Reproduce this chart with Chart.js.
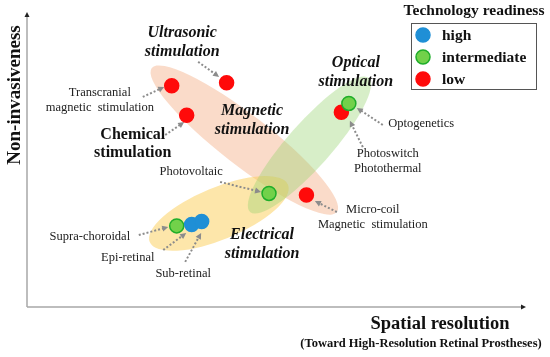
<!DOCTYPE html>
<html><head><meta charset="utf-8">
<script src="https://cdn.jsdelivr.net/npm/chart.js@4/dist/chart.umd.min.js"></script>
<style>html,body{margin:0;padding:0;background:#fff}#wrap{width:550px;height:357px}</style>
</head><body><div id="wrap"><canvas id="c" width="550" height="357"></canvas></div>
<script>
// ---- data (axis units 0..100, conceptual) ----
const readinessLevels = ["high", "intermediate", "low"];
const highPoints = [ {x:33, y:28, name:"Epi-retinal"}, {x:35, y:29, name:"Sub-retinal"} ];
const intermediatePoints = [ {x:30, y:27.5, name:"Supra-choroidal"}, {x:48.5, y:38.5, name:"Photovoltaic"}, {x:64.5, y:69, name:"Optogenetics"} ];
const lowPoints = [ {x:29, y:75, name:"Transcranial magnetic stimulation"}, {x:40, y:76, name:"Ultrasonic"}, {x:32, y:65, name:"Chemical"}, {x:63, y:66, name:"Photoswitch / Photothermal"}, {x:56, y:38, name:"Micro-coil magnetic"} ];
// stimulation-group regions: major-axis end points (data units)
const regionMagnetic = {from:[25.0,81.0], to:[62.1,32.2]};
const regionElectrical = {from:[24.6,22.0], to:[52.3,41.4]};
const regionOptical = {from:[68.5,77.6], to:[44.7,32.2]};
// group titles
const groupLabels = [
  {lines:["Ultrasonic","stimulation"], x:31.1, y:89.8},
  {lines:["Magnetic","stimulation"], x:45.1, y:63.1},
  {lines:["Optical","stimulation"], x:65.9, y:79.7},
  {lines:["Electrical","stimulation"], x:47.1, y:21.2}
];
const chemicalLabel = {lines:["Chemical","stimulation"], x:21.2, y:55.4};
// callout labels
const calloutLabels = [
  {lines:["Transcranial","magnetic  stimulation"], x:14.6, y:70.0},
  {lines:["Photovoltaic"], x:32.9, y:45.8},
  {lines:["Optogenetics"], x:79.0, y:62.0},
  {lines:["Photoswitch","Photothermal"], x:72.3, y:49.5},
  {lines:["Micro-coil","Magnetic  stimulation"], x:69.3, y:30.3},
  {lines:["Supra-choroidal"], x:12.6, y:23.7},
  {lines:["Epi-retinal"], x:20.2, y:16.6},
  {lines:["Sub-retinal"], x:31.3, y:11.2}
];
// dotted pointer arrows: [fromX, fromY, toX, toY]
const pointerArrows = [
  [34.3,83.1,38.5,78.0],
  [23.2,71.2,27.5,74.6],
  [27.7,58.3,31.5,62.7],
  [38.7,42.4,46.9,39.0],
  [71.3,61.7,66.1,67.5],
  [67.3,54.2,64.7,63.1],
  [62.1,32.2,57.7,35.9],
  [22.4,24.4,28.3,27.1],
  [27.3,19.3,31.9,25.1],
  [31.7,15.3,34.9,25.1]
];
const xTitle = "Spatial resolution";
const xSubtitle = "(Toward High-Resolution Retinal Prostheses)";
const yTitle = "Non-invasiveness";
const legendTitle = "Technology readiness";

// ---- styles ----
const COLORS = {high:"#1f8fd6", intermediate:"#72d14a", low:"#ff0a0a"};
const BORDERS = {high:"#1f8fd6", intermediate:"#1fae2a", low:"#ff0a0a"};
const SERIF = '"Liberation Serif", "DejaVu Serif", serif';

function ellipse(ctx, xs, ys, reg, half, fill){
  const x1=xs.getPixelForValue(reg.from[0]), y1=ys.getPixelForValue(reg.from[1]);
  const x2=xs.getPixelForValue(reg.to[0]), y2=ys.getPixelForValue(reg.to[1]);
  const cx=(x1+x2)/2, cy=(y1+y2)/2;
  const a=Math.hypot(x2-x1,y2-y1)/2, ang=Math.atan2(y2-y1,x2-x1);
  ctx.save(); ctx.fillStyle=fill; ctx.beginPath();
  ctx.ellipse(cx,cy,a,half,ang,0,Math.PI*2); ctx.fill(); ctx.restore();
}
function multiline(ctx, xs, ys, lab, font, lh, color){
  ctx.save(); ctx.font=font; ctx.fillStyle=color; ctx.textAlign="center"; ctx.textBaseline="middle";
  const cx=xs.getPixelForValue(lab.x), cy=ys.getPixelForValue(lab.y);
  const n=lab.lines.length;
  lab.lines.forEach((t,i)=>ctx.fillText(t,cx,cy+(i-(n-1)/2)*lh));
  ctx.restore();
}
function arrowHead(ctx,x,y,ang,len,w,color){
  ctx.save(); ctx.fillStyle=color; ctx.beginPath();
  ctx.moveTo(x,y);
  ctx.lineTo(x-len*Math.cos(ang)+w*Math.sin(ang), y-len*Math.sin(ang)-w*Math.cos(ang));
  ctx.lineTo(x-len*Math.cos(ang)-w*Math.sin(ang), y-len*Math.sin(ang)+w*Math.cos(ang));
  ctx.closePath(); ctx.fill(); ctx.restore();
}

const background = {
  id:"background",
  beforeDatasetsDraw(chart){
    const {ctx, scales:{x:xs, y:ys}} = chart;
    ellipse(ctx,xs,ys,regionMagnetic,25,"rgba(245,175,135,0.45)");
    ellipse(ctx,xs,ys,regionElectrical,26,"rgba(252,205,85,0.5)");
    ellipse(ctx,xs,ys,regionOptical,22,"rgba(150,210,110,0.38)");
    // axes
    const x0=xs.getPixelForValue(0), x1=xs.getPixelForValue(100);
    const y0=ys.getPixelForValue(0), y1=ys.getPixelForValue(100);
    ctx.save(); ctx.strokeStyle="#a8a8a8"; ctx.lineWidth=1.5;
    ctx.beginPath(); ctx.moveTo(x0,y0); ctx.lineTo(x1-3,y0); ctx.moveTo(x0,y0); ctx.lineTo(x0,y1+3); ctx.stroke();
    ctx.restore();
    arrowHead(ctx,x1,y0,0,5,2.5,"#222");
    arrowHead(ctx,x0,y1,-Math.PI/2,5,2.5,"#222");
    // pointers
    ctx.save(); ctx.strokeStyle="#8c8c8c"; ctx.lineWidth=2; ctx.setLineDash([2,2]);
    pointerArrows.forEach(a=>{
      const fx=xs.getPixelForValue(a[0]), fy=ys.getPixelForValue(a[1]);
      const tx=xs.getPixelForValue(a[2]), ty=ys.getPixelForValue(a[3]);
      const ang=Math.atan2(ty-fy,tx-fx);
      ctx.beginPath(); ctx.moveTo(fx,fy); ctx.lineTo(tx-5*Math.cos(ang),ty-5*Math.sin(ang)); ctx.stroke();
      arrowHead(ctx,tx,ty,ang,6,3,"#8c8c8c");
    });
    ctx.restore();
  },
  afterDraw(chart){
    const {ctx, scales:{x:xs, y:ys}} = chart;
    groupLabels.forEach(l=>multiline(ctx,xs,ys,l,'italic bold 16px '+SERIF,19,"#111"));
    multiline(ctx,xs,ys,chemicalLabel,'bold 16px '+SERIF,18,"#111");
    calloutLabels.forEach(l=>multiline(ctx,xs,ys,l,'12.5px '+SERIF,15,"#222"));
    // axis titles
    ctx.save(); ctx.fillStyle="#111"; ctx.textAlign="center"; ctx.textBaseline="middle";
    ctx.font='bold 18.5px '+SERIF; ctx.fillText(xTitle,440,324);
    ctx.font='bold 12.5px '+SERIF; ctx.fillText(xSubtitle,421,344);
    ctx.translate(15,95); ctx.rotate(-Math.PI/2); ctx.font='bold 19px '+SERIF; ctx.fillText(yTitle,0,0);
    ctx.restore();
    // legend
    ctx.save();
    ctx.font='bold 15.5px '+SERIF; ctx.fillStyle="#111"; ctx.textAlign="center"; ctx.textBaseline="middle";
    ctx.fillText(legendTitle,474,11);
    ctx.strokeStyle="#555"; ctx.lineWidth=1; ctx.strokeRect(411.5,23.5,125,66);
    readinessLevels.forEach((lv,i)=>{
      const cy=35+i*22;
      ctx.beginPath(); ctx.arc(423,cy,7,0,Math.PI*2); ctx.fillStyle=COLORS[lv]; ctx.fill();
      ctx.lineWidth=1.5; ctx.strokeStyle=BORDERS[lv]; ctx.stroke();
      ctx.fillStyle="#111"; ctx.textAlign="left"; ctx.fillText(lv,442,cy+1);
    });
    ctx.restore();
  }
};

const ds = (label, pts, lv) => ({label, data:pts, backgroundColor:COLORS[lv], borderColor:BORDERS[lv], borderWidth:1.5, pointRadius:7, pointHoverRadius:7});

new Chart(document.getElementById("c"), {
  type:"scatter",
  data:{ datasets:[ ds("high",highPoints,"high"), ds("intermediate",intermediatePoints,"intermediate"), ds("low",lowPoints,"low") ] },
  options:{
    responsive:false, animation:false, devicePixelRatio:1,
    layout:{padding:{left:27, right:24, top:12, bottom:50}},
    scales:{ x:{type:"linear", min:0, max:100, display:false}, y:{type:"linear", min:0, max:100, display:false} },
    plugins:{ legend:{display:false}, tooltip:{enabled:false} }
  },
  plugins:[background]
});
</script></body></html>
